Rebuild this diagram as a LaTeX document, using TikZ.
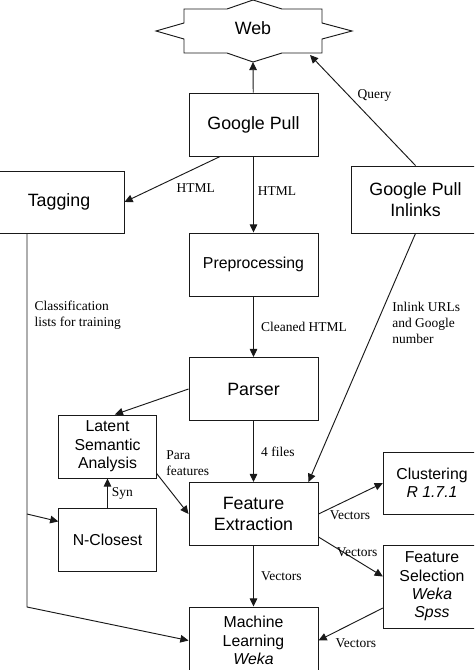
\documentclass[tikz,border=0pt]{standalone}
\usepackage{fontspec}
\setmainfont{Liberation Serif}
\setsansfont{Liberation Sans}
\usetikzlibrary{arrows.meta,positioning,calc}

\newcommand{\boxfont}{\sffamily\fontsize{15.2}{17.6}\selectfont}
\newcommand{\smallboxfont}{\sffamily\fontsize{13.5}{15.7}\selectfont}
\newcommand{\lblfont}{\rmfamily\fontsize{11.5}{13.6}\selectfont}

\begin{document}
\begin{tikzpicture}[
    x=0.03cm, y=-0.03cm,
    box/.style={rectangle, draw=black!90, line width=0.8pt, minimum width=3.87cm, minimum height=1.89cm, inner sep=0pt, align=center, font=\boxfont},
    smallbox/.style={box, minimum width=2.92cm, font=\smallboxfont},
    lbl/.style={font=\lblfont, align=left},
    line/.style={-{Triangle[length=7pt, width=6.5pt]}, line width=0.8pt, draw=black!90}
]
    \useasboundingbox (0,0) rectangle (474,670);
    \clip (0,0) rectangle (474,670);

    % web burst
    \draw[line width=0.8pt, draw=black!90] (156,31) -- (184,23) -- (184,9) -- (227,9) -- (253,0) -- (282,9) -- (322,9) -- (322,23) -- (352,31)
        -- (322,39) -- (322,53) -- (282,53) -- (253,62) -- (227,53) -- (184,53) -- (184,39) -- cycle;
    \node[font=\boxfont] (web) at (253,28) {Web};
    \coordinate (webS) at (253,62);
    \coordinate (webSE) at (310,55);

    \node[box] (gpull) at (253.5,124.5) {Google Pull};
    \node[box, minimum width=3.9cm, minimum height=1.86cm] (tagging) at (59,202) {Tagging};
    \node[box, minimum height=2.01cm] (inlinks) at (415.5,199.5) {Google Pull\\Inlinks};
    \node[box, font=\smallboxfont] (prep) at (253.5,264.5) {Preprocessing};
    \node[box] (parser) at (253.5,389) {Parser};
    \node[smallbox] (lsa) at (107.5,446.5) {Latent\\Semantic\\Analysis};
    \node[smallbox] (nclosest) at (107.5,540) {N-Closest};
    \node[box] (featx) at (253.5,514) {Feature\\Extraction};
    \node[smallbox, minimum height=1.86cm] (clust) at (432,483) {Clustering\\\textit{R 1.7.1}};
    \node[smallbox, minimum height=2.49cm] (fsel) at (432,586.5) {Feature\\Selection\\\textit{Weka}\\\textit{Spss}};
    \node[box, font=\smallboxfont, minimum height=2.01cm] (mlearn) at (253.5,640.5) {Machine\\Learning\\\textit{Weka}};

    \coordinate (tagcorner) at (27,607);
    \coordinate (tagfork) at (27,514);

    \draw[line] (gpull) -- (webS);
    \draw[line] (inlinks.north) -- node[lbl, pos=0.63, right=0.13cm] {Query} (webSE);
    \draw[line] ([xshift=-1cm]gpull.south) -- node[lbl, midway, below right] {HTML} (tagging.east);
    \draw[line] (gpull) -- node[lbl, pos=0.45, right] {HTML} (prep);
    \draw[line] (prep) -- node[lbl, midway, right=0.1cm] {Cleaned HTML} (parser);
    \draw[line] (tagging.south -| tagcorner) -- node[lbl, pos=0.22, right=0.1cm] {Classification\\lists for training} (tagcorner) -- (mlearn.west);
    \draw[line] (tagfork) -- ($(nclosest.north west)!0.21!(nclosest.south west)$);
    \draw[line] (parser.west) -- ([xshift=0.22cm]lsa.north);
    \draw[line] (nclosest) -- node[lbl, midway, right] {Syn} (lsa);
    \draw[line] ([yshift=0.15cm]lsa.south east) -- node[lbl, pos=0.1, anchor=south west, inner sep=1pt, xshift=0.15cm] {Para\\features} (featx.west);
    \draw[line] (parser) -- node[lbl, midway, right=0.1cm] {4 files} (featx);
    \draw[line] (inlinks.south) -- node[lbl, pos=0.36, right=0.33cm] {Inlink URLs\\and Google\\number} ([xshift=-0.3cm]featx.north east);
    \draw[line] (featx.east) -- node[lbl, pos=0.15, anchor=north west, inner sep=1pt] {Vectors} (clust.west);
    \draw[line] ([yshift=0.27cm]featx.south east) -- node[lbl, pos=0.6, above] {Vectors} ([yshift=0.3cm]fsel.west);
    \draw[line] (featx) -- node[lbl, midway, right=0.1cm] {Vectors} (mlearn);
    \draw[line] ([yshift=-0.645cm]fsel.west) -- node[lbl, pos=0.8, below right] {Vectors} (mlearn.east);
\end{tikzpicture}
\end{document}
